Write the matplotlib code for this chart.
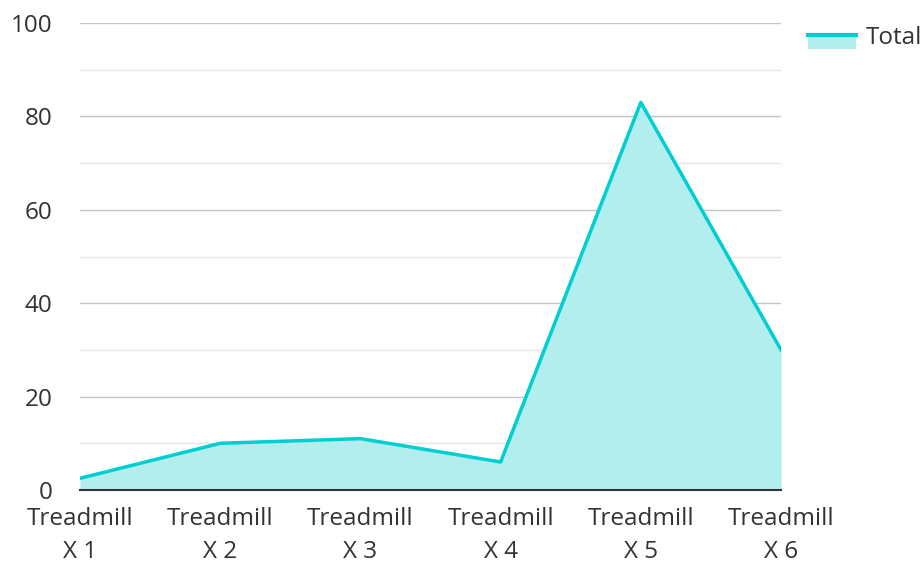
import matplotlib.pyplot as plt
from matplotlib.legend_handler import HandlerBase
from matplotlib.patches import Rectangle
from matplotlib.lines import Line2D

plt.rcParams['font.family'] = ['Open Sans', 'DejaVu Sans']

# data
categories = ["Treadmill\nX 1", "Treadmill\nX 2", "Treadmill\nX 3",
              "Treadmill\nX 4", "Treadmill\nX 5", "Treadmill\nX 6"]
total = [2.5, 10, 11, 6, 83, 30]
y_ticks = [0, 20, 40, 60, 80, 100]
y_minor = [10, 30, 50, 70, 90]

line_color = "#00CED1"
fill_color = "#B2EEEE"
fs = 17.5


class FillLineHandler(HandlerBase):
    # legend key: line on top of a filled block
    def create_artists(self, legend, orig_handle, xdescent, ydescent,
                       width, height, fontsize, trans):
        top = -ydescent + height * 0.55
        bottom = -ydescent - height * 0.3
        rect = Rectangle((-xdescent, bottom), width, top - bottom,
                         facecolor=fill_color, edgecolor="none", transform=trans)
        ln = Line2D([-xdescent, -xdescent + width], [top, top],
                    color=line_color, lw=3, transform=trans)
        return [rect, ln]


fig = plt.figure(figsize=(9.22, 5.62), dpi=100)
ax = fig.add_axes([80 / 922, 72 / 562, 701 / 922, 467 / 562])

x = list(range(len(categories)))
ax.fill_between(x, total, 0, color=fill_color, lw=0, zorder=2)
ax.plot(x, total, color=line_color, lw=2.5, zorder=3)

ax.set_xlim(0, len(categories) - 1)
ax.set_ylim(0, 100)
ax.set_yticks(y_ticks)
ax.set_yticks(y_minor, minor=True)
ax.set_xticks(x)
ax.set_xticklabels(categories, linespacing=1.5)
ax.tick_params(axis="both", length=0, labelsize=fs, colors="#333333")
ax.tick_params(axis="y", which="minor", length=0)
ax.tick_params(axis="y", pad=20)
ax.tick_params(axis="x", pad=12)

ax.grid(axis="y", which="major", color="#c4c4c4", lw=1, zorder=1)
ax.grid(axis="y", which="minor", color="#e6e6e6", lw=1, zorder=1)
for s in ["top", "right", "left"]:
    ax.spines[s].set_visible(False)
ax.spines["bottom"].set_color("#333333")
ax.spines["bottom"].set_linewidth(1.5)
ax.spines["bottom"].set_zorder(4)

ax.legend([object()], ["Total"], handler_map={object: FillLineHandler()},
          loc="upper left", bbox_to_anchor=(1.025, 1.014), frameon=False,
          fontsize=fs, handlelength=1.97, handletextpad=0.41, borderaxespad=0,
          labelcolor="#333333")

fig.savefig("out.png", dpi=100)
